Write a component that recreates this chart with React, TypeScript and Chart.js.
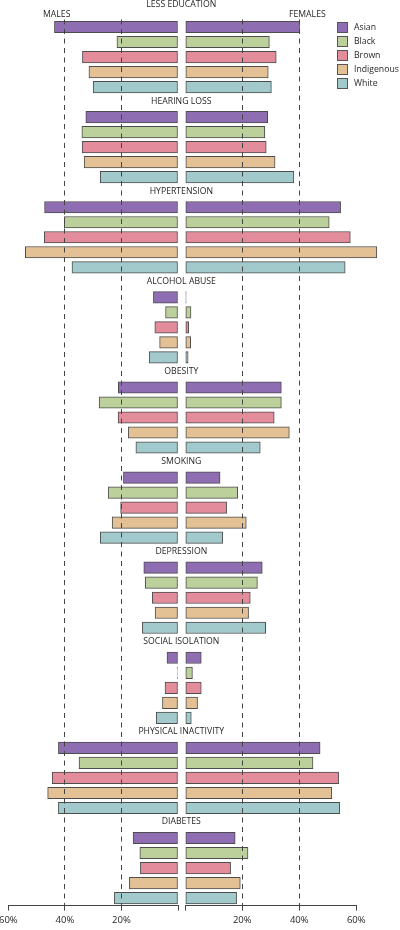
import { useEffect, useRef } from "react";
import { Chart, registerables } from "chart.js";

Chart.register(...registerables);

const FACTORS = [
  "LESS EDUCATION",
  "HEARING LOSS",
  "HYPERTENSION",
  "ALCOHOL ABUSE",
  "OBESITY",
  "SMOKING",
  "DEPRESSION",
  "SOCIAL ISOLATION",
  "PHYSICAL INACTIVITY",
  "DIABETES",
];
const GROUPS = ["Asian", "Black", "Brown", "Indigenous", "White"];
const COLORS = ["#8f6db3", "#bbd09b", "#e38c9b", "#e4c195", "#a2cacc"];

// % per factor, same order as FACTORS
const MALE_ASIAN = [43.7, 32.6, 47.2, 8.7, 21.1, 19.3, 12.1, 3.9, 42.3, 15.9];
const MALE_BLACK = [21.6, 34.0, 40.2, 4.4, 27.9, 24.7, 11.6, 0.3, 35.0, 13.5];
const MALE_BROWN = [33.8, 33.9, 47.3, 8.2, 21.2, 20.3, 9.1, 4.6, 44.5, 13.3];
const MALE_INDIGENOUS = [31.5, 33.2, 54.0, 6.5, 17.6, 23.3, 8.1, 5.5, 46.1, 17.2];
const MALE_WHITE = [30.0, 27.5, 37.5, 10.2, 14.9, 27.5, 12.6, 7.7, 42.3, 22.5];

const FEMALE_ASIAN = [40.1, 28.9, 54.5, 0.3, 33.7, 12.2, 27.0, 5.6, 47.3, 17.5];
const FEMALE_BLACK = [29.5, 27.9, 50.5, 2.0, 33.7, 18.4, 25.3, 2.5, 44.8, 22.0];
const FEMALE_BROWN = [31.9, 28.4, 57.9, 1.2, 31.2, 14.5, 22.8, 5.6, 53.8, 15.9];
const FEMALE_INDIGENOUS = [29.1, 31.5, 67.2, 1.9, 36.5, 21.4, 22.2, 4.3, 51.4, 19.3];
const FEMALE_WHITE = [30.2, 38.1, 56.1, 1.0, 26.3, 13.1, 28.2, 2.1, 54.2, 18.0];

const MALES = [MALE_ASIAN, MALE_BLACK, MALE_BROWN, MALE_INDIGENOUS, MALE_WHITE];
const FEMALES = [FEMALE_ASIAN, FEMALE_BLACK, FEMALE_BROWN, FEMALE_INDIGENOUS, FEMALE_WHITE];

const X_MAX = 60;
const STEP = 20;
const DASHED_AT = [20, 40];

const FONT = "Open Sans";
const INK = "#231f20";
const LINE = "#444";

// one category slot per bar, plus an empty slot that holds each factor's title
const SLOT_LABELS: string[] = [];
const SLOT_INDEX: number[][] = [];
FACTORS.forEach((f, g) => {
  if (g > 0) SLOT_LABELS.push(f);
  SLOT_INDEX.push(
    GROUPS.map((grp) => {
      SLOT_LABELS.push(f + " - " + grp);
      return SLOT_LABELS.length - 1;
    })
  );
});

function buildDatasets(series: number[][]) {
  return GROUPS.map((name, e) => {
    const data: (number | null)[] = SLOT_LABELS.map(() => null);
    FACTORS.forEach((_, g) => {
      data[SLOT_INDEX[g][e]] = series[e][g];
    });
    return {
      label: name,
      data,
      backgroundColor: COLORS[e],
      borderColor: "#4d4d4d",
      borderWidth: 1,
      borderSkipped: false,
      barThickness: 11.5,
      grouped: false,
      clip: false as const,
    };
  });
}

const titlesPlugin = {
  id: "factorTitles",
  afterDraw(chart: any) {
    const { ctx, chartArea } = chart;
    const x = chart.scales.x;
    const y = chart.scales.y;
    const cx = x.getPixelForValue(0) - 4;
    ctx.save();
    ctx.font = `8.7px "${FONT}"`;
    ctx.fillStyle = INK;
    ctx.textAlign = "center";
    ctx.textBaseline = "middle";
    FACTORS.forEach((f, g) => {
      const first = y.getPixelForValue(SLOT_INDEX[g][0]);
      const ty = g === 0 ? chartArea.top - 14.5 : first - 16;
      ctx.fillText(f, cx, ty);
    });
    ctx.restore();
  },
};

function makeOptions(reverse: boolean, padding: any): any {
  return {
    indexAxis: "y",
    responsive: true,
    maintainAspectRatio: false,
    animation: false,
    events: [],
    layout: { padding },
    plugins: { legend: { display: false }, tooltip: { enabled: false } },
    scales: {
      x: {
        type: "linear",
        reverse,
        min: 0,
        max: X_MAX,
        ticks: {
          stepSize: STEP,
          autoSkip: false,
          maxRotation: 0,
          padding: 4,
          color: INK,
          font: { family: FONT, size: 9.5 },
          callback: (v: number) => (v === 0 ? "" : v + "%"),
        },
        grid: {
          z: 1,
          lineWidth: 1,
          tickLength: 5,
          tickColor: LINE,
          color: (c: any) => (c.tick && DASHED_AT.includes(c.tick.value) ? LINE : "transparent"),
        },
        // z 1 so the axis line is drawn after the (raised) grid layer
        border: { color: LINE, width: 1, dash: [5, 4.5], z: 1 },
      },
      y: { type: "category", display: false, offset: true },
    },
  };
}

function Side({ series, reverse, box, padding, plugins }: any) {
  const canvasRef = useRef<HTMLCanvasElement>(null);

  useEffect(() => {
    if (!canvasRef.current) return;
    const chart = new Chart(canvasRef.current, {
      type: "bar",
      data: { labels: SLOT_LABELS, datasets: buildDatasets(series) as any },
      options: makeOptions(reverse, padding),
      plugins: plugins || [],
    });
    return () => chart.destroy();
  }, []);

  return (
    <div style={{ position: "absolute", top: 0, ...box }}>
      <canvas ref={canvasRef}></canvas>
    </div>
  );
}

export default function App() {
  const label = { position: "absolute" as const, fontFamily: FONT, fontSize: 8.7, color: INK, lineHeight: "12px" };
  return (
    <div style={{ position: "absolute", left: 0, top: 0, width: 400, height: 930, overflow: "hidden", background: "#fff" }}>
      <Side
        series={MALES}
        reverse={true}
        box={{ left: -5, width: 187, height: 930 }}
        padding={{ left: 12, right: 3.5, top: 19.5, bottom: 0 }}
      />
      <Side
        series={FEMALES}
        reverse={false}
        box={{ left: 0, width: 400, height: 930 }}
        padding={{ left: 185.3, right: 43.7, top: 19.5, bottom: 0 }}
        plugins={[titlesPlugin]}
      />
      <div style={{ ...label, left: 43, top: 8 }}>MALES</div>
      <div style={{ ...label, left: 289, top: 8 }}>FEMALES</div>
      <div style={{ position: "absolute", left: 337, top: 20 }}>
        {GROUPS.map((g, i) => (
          <div key={g} style={{ display: "flex", alignItems: "center", height: 14 }}>
            <div style={{ width: 11, height: 11, boxSizing: "border-box", border: "1px solid #555", background: COLORS[i] }} />
            <span style={{ marginLeft: 6, fontFamily: FONT, fontSize: 8.7, color: INK }}>{g}</span>
          </div>
        ))}
      </div>
    </div>
  );
}
